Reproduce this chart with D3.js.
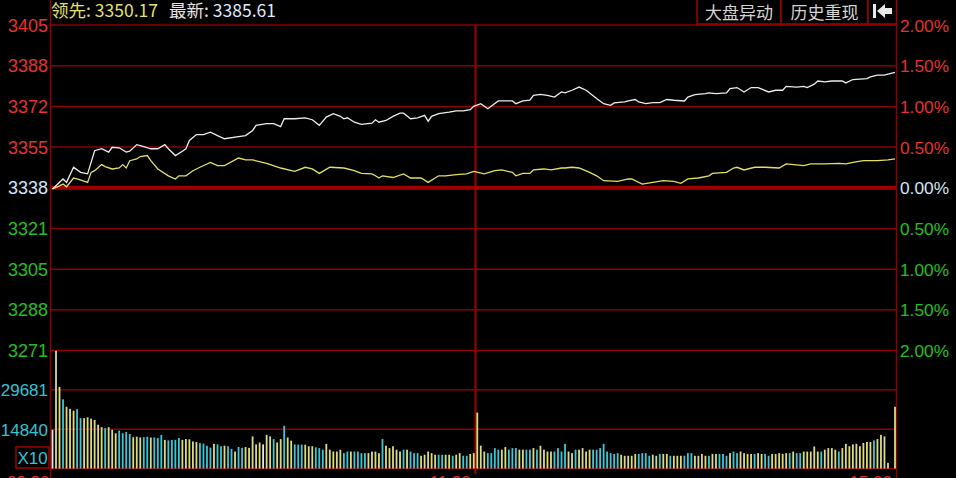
<!DOCTYPE html>
<html><head><meta charset="utf-8">
<script src="https://cdn.jsdelivr.net/npm/d3@7/dist/d3.min.js"></script>
<style>html,body{margin:0;padding:0;background:#000;overflow:hidden}</style>
</head><body><svg id="c" width="956" height="478"></svg>
<script>
// ---------- data ----------
const prevClose = 3338.3;
const leadValue = 3350.17;
const lastValue = 3385.61;
const priceTicks = ["3405","3388","3372","3355","3338","3321","3305","3288","3271"];
const pctTickLabels = ["2.00%","1.50%","1.00%","0.50%","0.00%","0.50%","1.00%","1.50%","2.00%"];
const pctTickValues = [2,1.5,1,0.5,0,-0.5,-1,-1.5,-2];
const volTicks = [29681, 14840];
const volMax = 44521;
const timeLabels = ["09:30","11:30","15:00"];
const timeMinutes = [0,120,240];
const buttons = ["大盘异动","历史重现"];

// index line (white): [minute, price]
const indexLine = [[0,3337.8],[3,3341.9],[4,3340.5],[6,3346.7],[8,3344.6],[10,3344.0],[12,3353.5],[14,3354.3],[16,3352.9],[17,3354.9],[19,3354.7],[21,3352.9],[22,3353.3],[24,3356.0],[26,3355.2],[28,3354.3],[30,3354.3],[32,3356.0],[33,3354.3],[35,3351.5],[37,3353.3],[38,3354.3],[39,3357.7],[41,3360.1],[43,3360.1],[45,3361.1],[47,3359.7],[49,3358.4],[53,3359.3],[55,3359.7],[57,3361.8],[58,3363.9],[61,3364.6],[63,3364.6],[65,3363.4],[66,3366.6],[69,3366.6],[72,3367.0],[74,3366.2],[76,3363.9],[78,3367.3],[80,3368.7],[82,3367.6],[83,3366.6],[84,3367.0],[86,3365.2],[88,3364.3],[91,3364.8],[92,3366.2],[93,3365.2],[95,3365.9],[97,3367.6],[99,3368.9],[100,3368.9],[102,3366.6],[104,3367.0],[106,3368.0],[107,3365.6],[108,3367.6],[110,3368.7],[113,3369.3],[115,3369.8],[117,3369.8],[119,3370.3],[120,3371.7],[122,3372.8],[124,3370.7],[127,3373.9],[131,3373.9],[132,3372.8],[134,3373.9],[136,3374.2],[137,3376.2],[139,3376.6],[141,3376.2],[143,3375.5],[145,3377.6],[146,3377.2],[148,3378.3],[150,3379.6],[152,3378.3],[155,3374.9],[157,3372.8],[159,3372.1],[160,3373.1],[163,3373.5],[164,3373.9],[166,3374.5],[167,3373.5],[169,3372.8],[171,3373.2],[173,3373.2],[175,3374.5],[177,3374.2],[180,3373.9],[181,3375.5],[183,3376.5],[186,3376.9],[187,3377.2],[189,3376.9],[192,3377.2],[193,3379.0],[195,3379.4],[197,3377.6],[199,3379.4],[201,3379.4],[204,3377.6],[206,3378.3],[208,3378.3],[209,3379.9],[212,3379.6],[214,3379.9],[215,3379.4],[217,3380.8],[218,3382.1],[220,3381.7],[222,3382.1],[225,3382.1],[226,3381.3],[228,3382.7],[232,3383.1],[233,3383.8],[235,3384.5],[237,3384.5],[238,3384.9],[240,3385.61]];

// leading line (yellow): [minute, price]
const leadLine = [[0,3337.8],[2,3339.1],[3,3339.8],[4,3338.7],[6,3342.3],[7,3341.9],[10,3340.5],[11,3344.6],[12,3345.3],[14,3347.8],[15,3347.0],[17,3346.0],[19,3346.4],[20,3347.8],[21,3346.4],[22,3349.4],[24,3350.1],[25,3351.1],[27,3351.5],[28,3349.4],[30,3346.0],[33,3343.2],[35,3341.9],[36,3343.2],[38,3343.2],[40,3345.3],[42,3346.7],[45,3348.7],[47,3347.4],[49,3347.4],[53,3350.5],[55,3349.7],[57,3349.7],[61,3348.3],[65,3346.4],[69,3345.0],[72,3346.7],[74,3346.0],[76,3344.2],[79,3346.7],[83,3346.4],[86,3345.3],[88,3344.2],[91,3344.0],[92,3343.2],[93,3342.3],[94,3343.2],[97,3342.5],[100,3344.0],[102,3342.3],[105,3342.3],[107,3340.5],[110,3343.2],[112,3343.2],[115,3343.7],[118,3344.0],[120,3345.0],[123,3344.0],[126,3345.3],[128,3345.6],[131,3344.6],[132,3343.2],[134,3344.2],[136,3344.2],[137,3345.6],[140,3346.0],[142,3345.6],[145,3346.4],[146,3346.4],[148,3346.7],[150,3346.4],[153,3344.6],[155,3343.2],[157,3341.2],[161,3340.9],[164,3341.9],[165,3341.9],[168,3339.8],[171,3340.5],[174,3341.2],[177,3340.9],[179,3340.1],[181,3341.9],[184,3342.3],[187,3343.2],[188,3344.2],[192,3344.6],[194,3346.4],[195,3346.7],[197,3345.6],[200,3346.7],[203,3346.7],[207,3346.4],[209,3348.1],[214,3347.4],[216,3348.1],[220,3348.1],[224,3348.3],[226,3348.1],[228,3348.7],[231,3349.4],[235,3349.4],[238,3349.7],[240,3350.17]];

// per-minute volume (in axis units), minute 0..240
const volumes = [14600,44400,30800,26100,23300,22500,21800,22400,19000,19000,19300,18800,18300,16500,15600,15200,15600,14600,13300,14300,13300,13800,13000,11800,12000,11700,11800,12000,11700,11700,11500,12700,10800,10600,10800,10800,11500,10800,11100,11000,10200,10000,9600,9400,8600,7900,9300,9100,8400,8600,8400,7400,6400,8100,7800,8100,7800,12100,9100,9800,9100,12700,12100,11100,9800,11100,16100,11700,10500,9100,9000,9000,9000,8400,8400,8000,7700,7100,9300,7100,6400,6400,7100,5800,6400,6400,6400,6400,5800,5800,5800,6400,6400,5800,11100,8600,7700,8400,7100,6400,7100,7100,6400,5800,5800,4800,5200,6400,5800,5200,5200,5200,5200,5200,4800,5200,5800,4800,4800,5500,5800,21100,8600,6400,5800,5800,7700,7100,7100,8100,7100,7700,7700,7100,7100,7100,7100,7700,7100,8600,7100,6400,6400,6400,7700,6400,9300,6400,5800,7100,7100,7700,6400,7100,7100,7100,7700,9300,6400,5800,5500,5800,5200,4800,4800,4800,5500,5500,5800,5800,4800,5200,4800,5500,5500,5500,4800,4800,4800,4800,4800,5800,5800,4800,4800,5500,4800,4800,5500,5500,5500,5500,4800,5800,6400,5800,6400,5800,5500,5500,5500,5800,5500,5500,4800,5500,5500,5800,5500,5800,5800,6400,5800,5800,6400,6400,6400,8300,6400,6400,7100,7700,7700,7100,6400,7700,9300,8400,9100,9300,8400,9600,10000,10000,10600,11100,12700,12100,2100,0,23300];
// per-minute direction: u = up (yellow), d = down (cyan), e = flat (white)
const volDir = ("e" + "uuduuudduuuuuuduuudddduuuddudddudddduuuuudddduddudduddu" +
  "uuuueuuduuduuddduuuddd" + "uuuuuddudddduuuuduuuuudu" + "ddduuuuudduuduudduuuu" +
  "udddduuddduudduduuuudddduuduuuudddddddduuuuudddduuduuduuuddduuuuduudddudduuuud" +
  "uudduuuuududduuuuuduuuuduuuuuuuuuduuuu").split("");

// ---------- drawing ----------
const svg = d3.select("#c");
const W = 956, H = 478;
const L = 50.5, R = 896.5;
const x = d3.scaleLinear().domain([0, 240]).range([52.5, 895]);
const yPct = d3.scaleLinear().domain([-2, 2]).range([350.5, 25]);
const yPrice = d3.scaleLinear().domain([prevClose * 0.98, prevClose * 1.02]).range([350.5, 25]);
const yVol = d3.scaleLinear().domain([0, volMax]).range([468.5, 350.5]);

const GRID = "#8c0000";
const RED = "#e83030", GREEN = "#1fc01f", BASE = "#d6e6f6", CYAN = "#2fc4d8";
const FONT = "'Liberation Sans', Arial, 'Noto Sans CJK SC', sans-serif";
const CJK = "'Noto Sans CJK SC', 'Liberation Sans', sans-serif";

svg.append("rect").attr("width", W).attr("height", H).attr("fill", "#000");

// price grid lines
pctTickValues.forEach(v => {
  svg.append("line").attr("x1", L).attr("x2", R)
    .attr("y1", yPct(v)).attr("y2", yPct(v))
    .attr("stroke", v === 0 ? "#a00000" : GRID)
    .attr("stroke-width", v === 0 ? 4 : 1.5);
});
// volume grid lines
volTicks.concat([0]).forEach(v => {
  svg.append("line").attr("x1", L).attr("x2", R)
    .attr("y1", yVol(v)).attr("y2", yVol(v))
    .attr("stroke", GRID).attr("stroke-width", 1.5);
});

// vertical lines
svg.append("line").attr("x1", L).attr("x2", L).attr("y1", 0).attr("y2", H)
  .attr("stroke", GRID).attr("stroke-width", 1.5);
svg.append("line").attr("x1", R).attr("x2", R).attr("y1", 23).attr("y2", H)
  .attr("stroke", GRID).attr("stroke-width", 1.5);
const midX = (x(120) + x(121)) / 2;
svg.append("line").attr("x1", midX).attr("x2", midX).attr("y1", 25).attr("y2", 474)
  .attr("stroke", "#a00000").attr("stroke-width", 2);

// volume bars
const colorOf = d => d === "u" ? "#dcdc7c" : d === "d" ? "#3cc6d6" : "#e6e6e6";
svg.append("g").selectAll("rect").data(volumes).join("rect")
  .attr("x", (d, i) => x(i) - 0.9)
  .attr("width", 1.8)
  .attr("y", d => yVol(d))
  .attr("height", d => yVol(0) - yVol(d))
  .attr("fill", (d, i) => colorOf(volDir[i] || "u"));

// lines
const lineGen = d3.line().x(d => x(d[0])).y(d => yPrice(d[1]));
svg.append("path").datum(leadLine).attr("d", lineGen)
  .attr("fill", "none").attr("stroke", "#e0e064").attr("stroke-width", 1.3);
svg.append("path").datum(indexLine).attr("d", lineGen)
  .attr("fill", "none").attr("stroke", "#ececec").attr("stroke-width", 1.3);

// left price labels
priceTicks.forEach((t, i) => {
  const v = pctTickValues[i];
  svg.append("text").attr("x", 48).attr("y", yPct(v) + 6.5)
    .attr("text-anchor", "end").attr("font-family", FONT).attr("font-size", 18)
    .attr("fill", v > 0 ? RED : v < 0 ? GREEN : BASE).text(t);
});
// right pct labels
pctTickLabels.forEach((t, i) => {
  const v = pctTickValues[i];
  svg.append("text").attr("x", 900).attr("y", yPct(v) + 6.5)
    .attr("font-family", FONT).attr("font-size", 17.3)
    .attr("fill", v > 0 ? RED : v < 0 ? GREEN : BASE).text(t);
});
// volume labels
volTicks.forEach(t => {
  svg.append("text").attr("x", 48).attr("y", yVol(t) + 6.5)
    .attr("text-anchor", "end").attr("font-family", FONT).attr("font-size", 17)
    .attr("fill", CYAN).text(t);
});
// X10 box
svg.append("rect").attr("x", 16).attr("y", 447).attr("width", 33).attr("height", 21)
  .attr("fill", "none").attr("stroke", "#a00000").attr("stroke-width", 1.5);
svg.append("text").attr("x", 32.5).attr("y", 464).attr("text-anchor", "middle")
  .attr("font-family", FONT).attr("font-size", 17).attr("fill", CYAN).text("X10");

// time labels
timeLabels.forEach((t, i) => {
  svg.append("text").attr("x", x(timeMinutes[i]) - 3).attr("y", 488)
    .attr("text-anchor", "end").attr("font-family", FONT).attr("font-size", 17)
    .attr("fill", RED).text(t);
});

// header
const h1 = svg.append("text").attr("x", 51).attr("y", 17)
  .attr("font-family", CJK).attr("font-size", 17.5);
h1.append("tspan").attr("fill", "#e0e070").text("领先: " + leadValue.toFixed(2));
const h2 = svg.append("text").attr("x", 169).attr("y", 17)
  .attr("font-family", CJK).attr("font-size", 17.5);
h2.append("tspan").attr("fill", "#e4e4e4").text("最新: ");
h2.append("tspan").attr("fill", "#dfeafa").text(lastValue.toFixed(2));

// buttons
const btnBoxes = [[697, 84], [781, 87]];
buttons.forEach((b, i) => {
  const [bx, bw] = btnBoxes[i];
  svg.append("rect").attr("x", bx).attr("y", -1).attr("width", bw).attr("height", 25)
    .attr("fill", "#000").attr("stroke", "#a00000").attr("stroke-width", 1.5);
  svg.append("text").attr("x", bx + bw / 2).attr("y", 19).attr("text-anchor", "middle")
    .attr("font-family", CJK).attr("font-size", 17).attr("fill", "#d4d4d4").text(b);
});
svg.append("rect").attr("x", 868).attr("y", -1).attr("width", 28.5).attr("height", 25)
  .attr("fill", "#000").attr("stroke", "#a00000").attr("stroke-width", 1.5);
svg.append("rect").attr("x", 873).attr("y", 4).attr("width", 3).attr("height", 14).attr("fill", "#e8e8e8");
svg.append("path").attr("d", "M877,11 L885,4 L885,8 L892,8 L892,14 L885,14 L885,18 Z").attr("fill", "#e8e8e8");
</script></body></html>
